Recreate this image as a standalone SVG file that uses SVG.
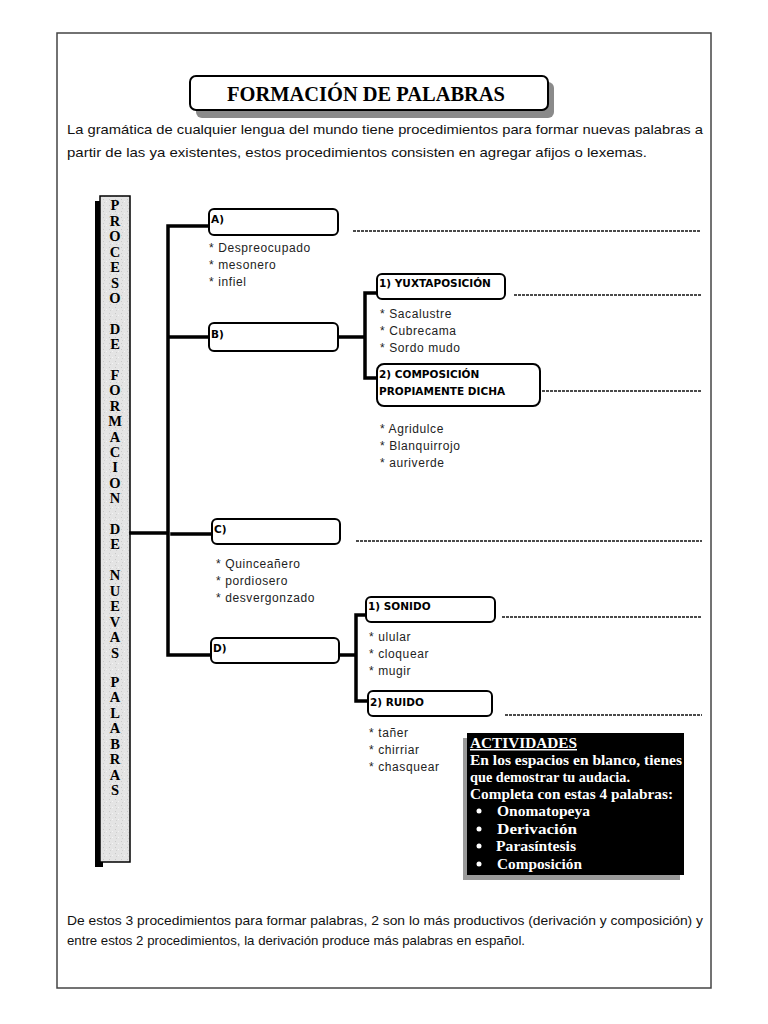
<svg xmlns="http://www.w3.org/2000/svg" width="768" height="1024" viewBox="0 0 768 1024">
<defs>
<style>
.body{font-family:"Liberation Sans",Arial,sans-serif;font-size:13.5px;fill:#111}
.item{font-family:"Liberation Sans",Arial,sans-serif;font-size:12px;fill:#222;letter-spacing:0.6px}
.lbl{font-family:"DejaVu Sans",Verdana,sans-serif;font-size:10.5px;font-weight:bold;fill:#000}
.box{fill:#fff;stroke:#000;stroke-width:2}
.ln{fill:none;stroke:#000;stroke-width:3.5;stroke-linecap:square}
.dash{stroke:#111;stroke-width:1.3;stroke-dasharray:3 1}
.vl{font-family:"Liberation Serif","Times New Roman",serif;font-size:14.5px;font-weight:bold;fill:#000;text-anchor:middle}
.act{font-family:"Liberation Serif","Times New Roman",serif;font-size:14.5px;font-weight:bold;fill:#fff}
</style>
<pattern id="speck" width="6" height="6" patternUnits="userSpaceOnUse">
<rect width="6" height="6" fill="#e4e4e4"/>
<rect x="1" y="1" width="1" height="1" fill="#c8c8c8"/>
<rect x="4" y="3" width="1" height="1" fill="#f4f4f4"/>
<rect x="2" y="4" width="1" height="1" fill="#cfcfcf"/>
</pattern>
</defs>
<rect width="768" height="1024" fill="#fff"/>
<rect x="57" y="33" width="654" height="955" fill="none" stroke="#444" stroke-width="1.5"/>

<g id="title">
<rect x="196" y="82" width="358" height="36" rx="6" fill="#8a8a8a"/>
<rect x="190" y="76" width="358" height="34" rx="6" class="box"/>
<text x="366" y="101" text-anchor="middle" font-family="Liberation Serif,Times New Roman,serif" font-size="20.5" font-weight="bold" textLength="278" lengthAdjust="spacingAndGlyphs">FORMACIÓN DE PALABRAS</text>
</g>

<g id="intro">
<text x="67" y="134" class="body" textLength="636" lengthAdjust="spacingAndGlyphs">La gramática de cualquier lengua del mundo tiene procedimientos para formar nuevas palabras a</text>
<text x="67" y="157" class="body" textLength="580" lengthAdjust="spacingAndGlyphs">partir de las ya existentes, estos procedimientos consisten en agregar afijos o lexemas.</text>
</g>

<g id="vbar">
<rect x="95" y="201" width="8" height="666" fill="#000"/>
<rect x="100" y="196" width="30" height="666" fill="url(#speck)" stroke="#000" stroke-width="1.5"/>
<text class="vl" x="115" y="210">P</text>
<text class="vl" x="115" y="226">R</text>
<text class="vl" x="115" y="241">O</text>
<text class="vl" x="115" y="257">C</text>
<text class="vl" x="115" y="272">E</text>
<text class="vl" x="115" y="288">S</text>
<text class="vl" x="115" y="303">O</text>
<text class="vl" x="115" y="334">D</text>
<text class="vl" x="115" y="349">E</text>
<text class="vl" x="115" y="380">F</text>
<text class="vl" x="115" y="395">O</text>
<text class="vl" x="115" y="411">R</text>
<text class="vl" x="115" y="426">M</text>
<text class="vl" x="115" y="442">A</text>
<text class="vl" x="115" y="457">C</text>
<text class="vl" x="115" y="472">I</text>
<text class="vl" x="115" y="488">O</text>
<text class="vl" x="115" y="503">N</text>
<text class="vl" x="115" y="534">D</text>
<text class="vl" x="115" y="549">E</text>
<text class="vl" x="115" y="580">N</text>
<text class="vl" x="115" y="596">U</text>
<text class="vl" x="115" y="611">E</text>
<text class="vl" x="115" y="627">V</text>
<text class="vl" x="115" y="642">A</text>
<text class="vl" x="115" y="658">S</text>
<text class="vl" x="115" y="687">P</text>
<text class="vl" x="115" y="702">A</text>
<text class="vl" x="115" y="718">L</text>
<text class="vl" x="115" y="733">A</text>
<text class="vl" x="115" y="749">B</text>
<text class="vl" x="115" y="764">R</text>
<text class="vl" x="115" y="780">A</text>
<text class="vl" x="115" y="795">S</text>
</g>

<g id="connectors">
<path class="ln" d="M131 533 H168 M168 226 V655 M168 226 H209 M168 337 H209 M172 534 H211 M168 655 H211"/>
<path class="ln" d="M339 337 H365 M365 293 V378 M365 293 H377 M365 378 H377"/>
<path class="ln" d="M340 655 H356 M356 615 V701 M356 615 H366 M356 701 H368"/>
<g class="dash">
<line x1="353" y1="231" x2="700" y2="231"/>
<line x1="514" y1="295" x2="702" y2="295"/>
<line x1="542" y1="391" x2="702" y2="391"/>
<line x1="356" y1="541" x2="702" y2="541"/>
<line x1="502" y1="617" x2="702" y2="617"/>
<line x1="505" y1="715" x2="702" y2="715"/>
</g>
</g>

<g id="nodeA">
<rect x="209" y="209" width="129" height="26" rx="5" class="box"/>
<text x="211" y="223" class="lbl">A)</text>
<text x="209" y="252" class="item">* Despreocupado</text>
<text x="209" y="269" class="item">* mesonero</text>
<text x="209" y="286" class="item">* infiel</text>
</g>

<g id="nodeB">
<rect x="209" y="323" width="129" height="28" rx="5" class="box"/>
<text x="211" y="338" class="lbl">B)</text>
</g>

<g id="nodeB1">
<rect x="377" y="274" width="128" height="25" rx="5" class="box"/>
<text x="379" y="287" class="lbl">1) YUXTAPOSICIÓN</text>
<text x="380" y="318" class="item">* Sacalustre</text>
<text x="380" y="335" class="item">* Cubrecama</text>
<text x="380" y="352" class="item">* Sordo mudo</text>
</g>

<g id="nodeB2">
<rect x="377" y="364" width="163" height="42" rx="7" class="box"/>
<text x="379" y="378" class="lbl" font-size="11.5">2) COMPOSICIÓN</text>
<text x="379" y="395" class="lbl" font-size="11.5">PROPIAMENTE DICHA</text>
<text x="380" y="433" class="item">* Agridulce</text>
<text x="380" y="450" class="item">* Blanquirrojo</text>
<text x="380" y="467" class="item">* auriverde</text>
</g>

<g id="nodeC">
<rect x="212" y="519" width="128" height="25" rx="5" class="box"/>
<text x="214" y="533" class="lbl">C)</text>
<text x="216" y="568" class="item">* Quinceañero</text>
<text x="216" y="585" class="item">* pordiosero</text>
<text x="216" y="602" class="item">* desvergonzado</text>
</g>

<g id="nodeD">
<rect x="211" y="638" width="128" height="25" rx="5" class="box"/>
<text x="213" y="652" class="lbl">D)</text>
</g>

<g id="nodeD1">
<rect x="366" y="597" width="129" height="25" rx="5" class="box"/>
<text x="368" y="610" class="lbl">1) SONIDO</text>
<text x="369" y="641" class="item">* ulular</text>
<text x="369" y="658" class="item">* cloquear</text>
<text x="369" y="675" class="item">* mugir</text>
</g>

<g id="nodeD2">
<rect x="368" y="691" width="124" height="25" rx="5" class="box"/>
<text x="370" y="706" class="lbl">2) RUIDO</text>
<text x="369" y="737" class="item">* tañer</text>
<text x="369" y="754" class="item">* chirriar</text>
<text x="369" y="771" class="item">* chasquear</text>
</g>

<g id="actividades">
<rect x="463" y="738" width="217" height="142" fill="#9a9a9a"/>
<rect x="467" y="733" width="217" height="142" fill="#000"/>
<text x="470" y="748" class="act" text-decoration="underline" textLength="107" lengthAdjust="spacingAndGlyphs">ACTIVIDADES</text>
<text x="470" y="765" class="act" textLength="212" lengthAdjust="spacingAndGlyphs">En los espacios en blanco, tienes</text>
<text x="470" y="782" class="act" textLength="160" lengthAdjust="spacingAndGlyphs">que demostrar tu audacia.</text>
<text x="470" y="799" class="act" textLength="203" lengthAdjust="spacingAndGlyphs">Completa con estas 4 palabras:</text>
<circle cx="479" cy="811" r="2.5" fill="#fff"/>
<circle cx="479" cy="829" r="2.5" fill="#fff"/>
<circle cx="479" cy="846" r="2.5" fill="#fff"/>
<circle cx="479" cy="864" r="2.5" fill="#fff"/>
<text x="497" y="816" class="act" textLength="93" lengthAdjust="spacingAndGlyphs">Onomatopeya</text>
<text x="497" y="834" class="act" textLength="80" lengthAdjust="spacingAndGlyphs">Derivación</text>
<text x="496" y="851" class="act" textLength="80" lengthAdjust="spacingAndGlyphs">Parasíntesis</text>
<text x="497" y="869" class="act" textLength="85" lengthAdjust="spacingAndGlyphs">Composición</text>
</g>

<g id="footer">
<text x="67" y="925" class="body" font-size="12.5" textLength="636" lengthAdjust="spacingAndGlyphs">De estos 3 procedimientos para formar palabras, 2 son lo más productivos (derivación y composición) y</text>
<text x="67" y="945" class="body" font-size="12.5" textLength="458" lengthAdjust="spacingAndGlyphs">entre estos 2 procedimientos, la derivación produce más palabras en español.</text>
</g>
</svg>
